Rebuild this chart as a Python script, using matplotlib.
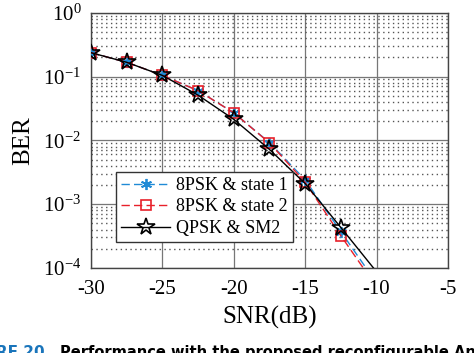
import matplotlib
matplotlib.use("Agg")
import matplotlib.pyplot as plt

plt.rcParams['font.family'] = ['Liberation Serif', 'DejaVu Serif']
plt.rcParams['mathtext.fontset'] = 'custom'
plt.rcParams['mathtext.rm'] = 'Liberation Serif'

# SNR points (last one lies below the axis and is clipped)
snr = [-30, -27.5, -25, -22.5, -20, -17.5, -15, -12.5, -10]
ber_8psk_s1 = [0.236, 0.167, 0.104, 0.060, 0.027, 0.0092, 0.0024, 3.7e-4, 5.8e-5]
ber_8psk_s2 = [0.236, 0.167, 0.104, 0.060, 0.027, 0.0091, 0.0022, 3.2e-4, 5.0e-5]
ber_qpsk_sm2 = [0.236, 0.167, 0.104, 0.051, 0.0213, 0.0072, 0.0021, 4.3e-4, 8.7e-5]

fig = plt.figure(figsize=(4.74, 3.53), dpi=100)
ax = fig.add_axes([0.192, 0.241, 0.753, 0.723])

marks = slice(0, 8)
ax.semilogy(snr, ber_8psk_s1, color='#1f8ad6', ls=(0, (6, 3)), lw=1.0,
            marker=(6, 2, 0), ms=8, mew=1.3, markevery=marks,
            label='8PSK & state 1', zorder=3)
ax.semilogy(snr, ber_8psk_s2, color='#e8202a', ls=(0, (6, 3)), lw=1.0,
            marker='s', ms=7, mfc='none', mew=1.2, markevery=marks,
            label='8PSK & state 2', zorder=3)
ax.semilogy(snr, ber_qpsk_sm2, color='black', ls='-', lw=1.0,
            marker='*', ms=13, mfc='none', mew=1.2, markevery=marks,
            label='QPSK & SM2', zorder=4)

ax.set_xlim(-30, -5)
ax.set_ylim(1e-4, 1)
ax.set_xticks([-30, -25, -20, -15, -10, -5])
ax.set_xticklabels(['-30', '-25', '-20', '-15', '-10', '-5'])
ax.tick_params(axis='both', which='major', labelsize=15, length=0)
ax.tick_params(axis='x', pad=9)
ax.tick_params(axis='y', pad=7)
ax.tick_params(axis='both', which='minor', length=0)

ax.grid(True, which='major', color='#777777', lw=0.9, ls='-')
ax.grid(True, which='minor', axis='y', color='#555555', lw=1.0, ls=(0, (1, 2.5)))
ax.set_axisbelow(True)
for s in ax.spines.values():
    s.set_color('#444444')
    s.set_linewidth(1.0)

ax.set_xlabel('SNR(dB)', fontsize=18, labelpad=5)
ax.set_ylabel('BER', fontsize=18, labelpad=6)

leg = ax.legend(loc='lower left', bbox_to_anchor=(0.07, 0.1), fontsize=13,
                frameon=True, fancybox=False, edgecolor='#333333', framealpha=1,
                handlelength=2.7, borderpad=0.3, labelspacing=0.25, handletextpad=0.3,
                borderaxespad=0)
leg.get_frame().set_linewidth(1.0)

fig.text(0.095, 8 / 353, 'FIGURE 20', color='#1a75bb', fontsize=11, fontweight='bold',
         family='DejaVu Sans', ha='right', va='top')
fig.text(0.127, 8 / 353, 'Performance with the proposed reconfigurable Antenna',
         color='black', fontsize=10.5, fontweight='bold', family='DejaVu Sans',
         ha='left', va='top')

fig.savefig('out.png', dpi=100)
